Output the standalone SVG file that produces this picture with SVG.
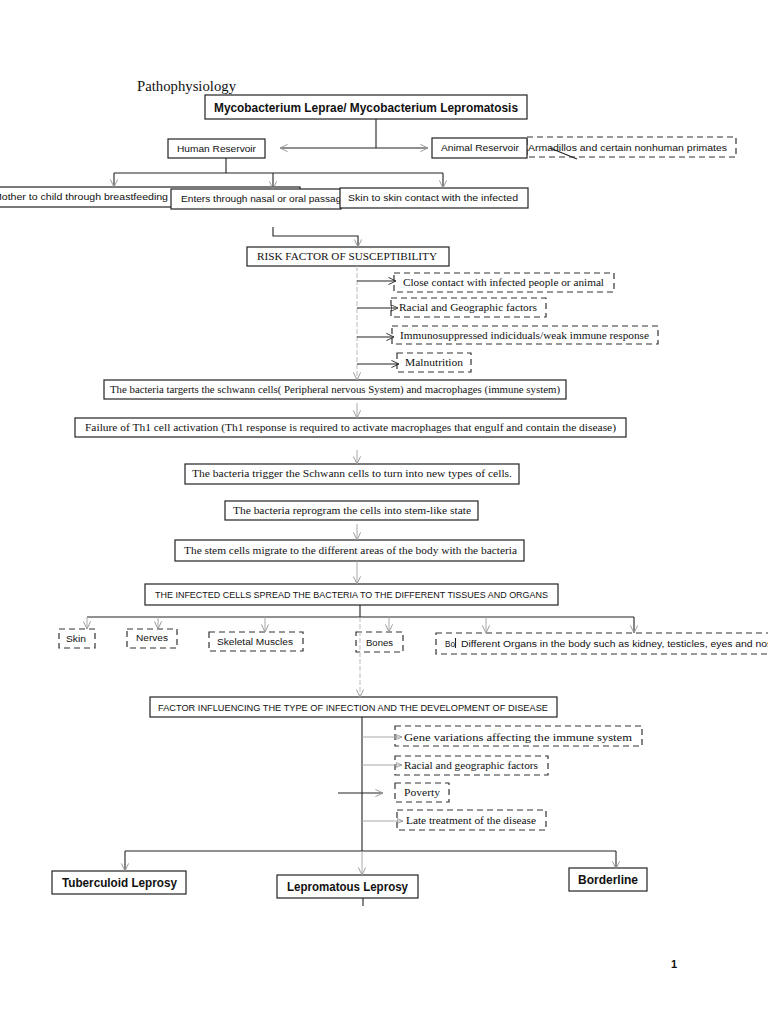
<svg xmlns="http://www.w3.org/2000/svg" width="768" height="1024" viewBox="0 0 768 1024">
<style>
.bx{fill:#fff;stroke:#222;stroke-width:1.2}
.dx{fill:#fff;stroke:#333;stroke-width:1.2;stroke-dasharray:6,4}
.sans{font-family:"Liberation Sans",Arial,sans-serif;fill:#111}
.serif{font-family:"Liberation Serif","Times New Roman",serif;fill:#111}
.k{fill:none;stroke:#222;stroke-width:1.1}
.g{fill:none;stroke:#aaa;stroke-width:1}
.gd{fill:none;stroke:#bbb;stroke-width:1;stroke-dasharray:5,2}
</style>
<defs>
<marker id="ag" viewBox="0 0 10 10" refX="9.5" refY="5" markerWidth="8" markerHeight="8" orient="auto" markerUnits="userSpaceOnUse"><path d="M0,0.5 L9.5,5 L0,9.5" fill="none" stroke="#999" stroke-width="1.2"/></marker>
<marker id="ak" viewBox="0 0 10 10" refX="9.5" refY="5" markerWidth="8" markerHeight="8" orient="auto" markerUnits="userSpaceOnUse"><path d="M0,0.5 L9.5,5 L0,9.5" fill="none" stroke="#333" stroke-width="1.2"/></marker>
<marker id="at" viewBox="0 0 10 10" refX="9.5" refY="5" markerWidth="7" markerHeight="7" orient="auto" markerUnits="userSpaceOnUse"><path d="M0,0.5 L9.5,5 L0,9.5 Z" fill="none" stroke="#333" stroke-width="1.2"/></marker>
<marker id="ats" viewBox="0 0 10 10" refX="9.5" refY="5" markerWidth="6" markerHeight="6" orient="auto" markerUnits="userSpaceOnUse"><path d="M0,1 L9.5,5 L0,9 Z" fill="none" stroke="#888" stroke-width="1.2"/></marker>
</defs>

<text class="serif" x="137" y="91" font-size="14" textLength="99" lengthAdjust="spacingAndGlyphs">Pathophysiology</text>

<g id="n-myco"><rect class="bx" x="205" y="95" width="322" height="24"/><text class="sans" x="214" y="112" font-size="12.5" font-weight="bold" textLength="304" lengthAdjust="spacingAndGlyphs">Mycobacterium Leprae/ Mycobacterium Lepromatosis</text></g>
<g id="n-human"><rect class="bx" x="168" y="139" width="97" height="19"/><text class="sans" x="177" y="152" font-size="9" textLength="79" lengthAdjust="spacingAndGlyphs">Human Reservoir</text></g>
<g id="n-armadillo"><rect class="dx" x="527" y="137" width="209" height="20"/><text class="sans" x="528" y="151" font-size="9" textLength="199" lengthAdjust="spacingAndGlyphs">Armadillos and certain nonhuman primates</text></g>
<g id="n-animal"><rect class="bx" x="432" y="138" width="95" height="20"/><text class="sans" x="441" y="151" font-size="9" textLength="78" lengthAdjust="spacingAndGlyphs">Animal Reservoir</text></g>
<g id="n-mother"><rect class="bx" x="-120" y="187" width="420" height="20"/><text class="sans" x="-7" y="200" font-size="9" textLength="175" lengthAdjust="spacingAndGlyphs">Mother to child through breastfeeding</text></g>
<g id="n-enters"><rect class="bx" x="171" y="189" width="170" height="20"/><text class="sans" x="181" y="202" font-size="9" textLength="166" lengthAdjust="spacingAndGlyphs">Enters through nasal or oral passage</text></g>
<g id="n-skin"><rect class="bx" x="340" y="188" width="188" height="20"/><text class="sans" x="348" y="201" font-size="9" textLength="170" lengthAdjust="spacingAndGlyphs">Skin to skin contact with the infected</text></g>

<g id="n-risk"><rect class="bx" x="247" y="247" width="202" height="19"/><text class="serif" x="257" y="260" font-size="9.5" textLength="180" lengthAdjust="spacingAndGlyphs">RISK FACTOR OF SUSCEPTIBILITY</text></g>
<g id="n-close"><rect class="dx" x="394" y="273" width="220" height="19" style="fill:none"/><text class="serif" x="403" y="286" font-size="9.5" textLength="201" lengthAdjust="spacingAndGlyphs">Close contact with infected people or animal</text></g>
<g id="n-racial1"><rect class="dx" x="391" y="298" width="155" height="19" style="fill:none"/><text class="serif" x="399" y="311" font-size="9.5" textLength="138" lengthAdjust="spacingAndGlyphs">Racial and Geographic factors</text></g>
<g id="n-immuno"><rect class="dx" x="392" y="326" width="266" height="18" style="fill:none"/><text class="serif" x="400" y="339" font-size="9.5" textLength="249" lengthAdjust="spacingAndGlyphs">Immunosuppressed indiciduals/weak immune response</text></g>
<g id="n-malnut"><rect class="dx" x="397" y="353" width="74" height="19" style="fill:none"/><text class="serif" x="405" y="366" font-size="9.5" textLength="58" lengthAdjust="spacingAndGlyphs">Malnutrition</text></g>

<g id="n-targets"><rect class="bx" x="104" y="380" width="462" height="19"/><text class="serif" x="110" y="393" font-size="9.5" textLength="450" lengthAdjust="spacingAndGlyphs">The bacteria targerts the schwann cells( Peripheral nervous System) and macrophages (immune system)</text></g>
<g id="n-failure"><rect class="bx" x="75" y="418" width="551" height="19"/><text class="serif" x="85" y="431" font-size="9.5" textLength="531" lengthAdjust="spacingAndGlyphs">Failure of Th1 cell activation (Th1 response is required to activate macrophages that engulf and contain the disease)</text></g>
<g id="n-trigger"><rect class="bx" x="185" y="464" width="334" height="20"/><text class="serif" x="192" y="477" font-size="9.5" textLength="320" lengthAdjust="spacingAndGlyphs">The bacteria trigger the Schwann cells to turn into new types of cells.</text></g>
<g id="n-reprogram"><rect class="bx" x="225" y="501" width="253" height="19"/><text class="serif" x="233" y="514" font-size="9.5" textLength="238" lengthAdjust="spacingAndGlyphs">The bacteria reprogram the cells into stem-like state</text></g>
<g id="n-stem"><rect class="bx" x="175" y="540" width="349" height="21"/><text class="serif" x="184" y="554" font-size="9.5" textLength="333" lengthAdjust="spacingAndGlyphs">The stem cells migrate to the different areas of the body with the bacteria</text></g>
<g id="n-infected"><rect class="bx" x="145" y="584" width="413" height="21"/><text class="sans" x="155" y="598" font-size="8.5" textLength="393" lengthAdjust="spacingAndGlyphs">THE INFECTED CELLS SPREAD THE BACTERIA TO THE DIFFERENT TISSUES AND ORGANS</text></g>

<g id="n-t-skin"><rect class="dx" x="59" y="629" width="36" height="19" style="fill:none"/><text class="sans" x="66" y="642" font-size="8.5" textLength="20" lengthAdjust="spacingAndGlyphs">Skin</text></g>
<g id="n-t-nerves"><rect class="dx" x="127" y="629" width="50" height="19" style="fill:none"/><text class="sans" x="136" y="641" font-size="8.5" textLength="32" lengthAdjust="spacingAndGlyphs">Nerves</text></g>
<g id="n-t-skeletal"><rect class="dx" x="209" y="632" width="94" height="19" style="fill:none"/><text class="sans" x="217" y="645" font-size="8.5" textLength="76" lengthAdjust="spacingAndGlyphs">Skeletal Muscles</text></g>
<g id="n-t-bones"><rect class="dx" x="356" y="632" width="47" height="20" style="fill:none"/><text class="sans" x="366" y="646" font-size="8.5" textLength="27" lengthAdjust="spacingAndGlyphs">Bones</text></g>
<g id="n-t-organs"><rect class="dx" x="436" y="633" width="360" height="21" style="fill:none"/><text class="sans" x="445" y="647" font-size="8.5" textLength="10" lengthAdjust="spacingAndGlyphs">Bo</text><path class="k" d="M455.5,638 V648"/><text class="sans" x="461" y="647" font-size="8.5" textLength="317" lengthAdjust="spacingAndGlyphs">Different Organs in the body such as kidney, testicles, eyes and nose</text></g>

<g id="n-factor"><rect class="bx" x="150" y="697" width="407" height="20"/><text class="sans" x="158" y="711" font-size="8.5" textLength="390" lengthAdjust="spacingAndGlyphs">FACTOR INFLUENCING THE TYPE OF INFECTION AND THE DEVELOPMENT OF DISEASE</text></g>
<g id="n-gene"><rect class="dx" x="395" y="726" width="247" height="20" style="fill:none"/><text class="serif" x="404" y="741" font-size="10" textLength="228" lengthAdjust="spacingAndGlyphs">Gene variations affecting the immune system</text></g>
<g id="n-racial2"><rect class="dx" x="395" y="756" width="153" height="19" style="fill:none"/><text class="serif" x="404" y="769" font-size="10" textLength="134" lengthAdjust="spacingAndGlyphs">Racial and geographic factors</text></g>
<g id="n-poverty"><rect class="dx" x="395" y="783" width="54" height="19" style="fill:none"/><text class="serif" x="404" y="796" font-size="10" textLength="36" lengthAdjust="spacingAndGlyphs">Poverty</text></g>
<g id="n-late"><rect class="dx" x="397" y="810" width="149" height="20" style="fill:none"/><text class="serif" x="406" y="824" font-size="10" textLength="130" lengthAdjust="spacingAndGlyphs">Late treatment of the disease</text></g>

<g id="n-tuberculoid"><rect class="bx" x="52" y="871" width="134" height="23"/><text class="sans" x="62" y="887" font-size="12" font-weight="bold" textLength="115" lengthAdjust="spacingAndGlyphs">Tuberculoid Leprosy</text></g>
<g id="n-lepromatous"><rect class="bx" x="277" y="875" width="141" height="23"/><text class="sans" x="287" y="891" font-size="12" font-weight="bold" textLength="121" lengthAdjust="spacingAndGlyphs">Lepromatous Leprosy</text></g>
<g id="n-borderline"><rect class="bx" x="569" y="868" width="78" height="23"/><text class="sans" x="578" y="884" font-size="12" font-weight="bold" textLength="60" lengthAdjust="spacingAndGlyphs">Borderline</text></g>

<g id="connectors">
<path class="k" d="M376,119 V148"/>
<path class="k" d="M376,148 H280" marker-end="url(#ag)"/>
<path class="k" d="M376,148 H428" marker-end="url(#ag)"/>
<path class="k" d="M550,148 L577,159"/>
<path class="k" d="M226,158 V173 M114,173 H443"/>
<path class="k" d="M114,173 V187" marker-end="url(#ag)"/>
<path class="k" d="M273,173 V189" marker-end="url(#ag)"/>
<path class="k" d="M443,173 V188" marker-end="url(#ag)"/>
<path class="k" d="M273,227 V236 H358 V247" marker-end="url(#ag)"/>
<path class="gd" d="M357,266 V380" marker-end="url(#ag)"/>
<path class="k" d="M357,281 H396" marker-end="url(#ak)"/>
<path class="k" d="M357,308 H398" marker-end="url(#at)"/>
<path class="k" d="M357,337 H394" marker-end="url(#ak)"/>
<path class="k" d="M357,364 H399" marker-end="url(#ak)"/>
<path class="g" d="M357,403 V418" marker-end="url(#ag)"/>
<path class="g" d="M357,450 V464" marker-end="url(#ag)"/>
<path class="g" d="M357,524 V540" marker-end="url(#ag)"/>
<path class="g" d="M357,561 V584" marker-end="url(#ag)"/>
<path class="k" d="M360,605 V617 M87,617 H634"/>
<path class="g" d="M87,617 V629" marker-end="url(#ag)"/>
<path class="g" d="M158,617 V629" marker-end="url(#ag)"/>
<path class="g" d="M265,617 V632" marker-end="url(#ag)"/>
<path class="g" d="M389,617 V632" marker-end="url(#ag)"/>
<path class="g" d="M486,617 V633" marker-end="url(#ag)"/>
<path class="k" d="M634,617 V633" marker-end="url(#ag)"/>
<path class="gd" d="M360,617 V697" marker-end="url(#ag)"/>
<path class="k" d="M362,717 V851" stroke-width="1.4"/>
<path class="g" d="M362,737 H402" marker-end="url(#ats)"/>
<path class="g" d="M362,765 H402" marker-end="url(#ats)"/>
<path class="k" d="M338,793 H383" marker-end="url(#ag)"/>
<path class="g" d="M362,821 H403" marker-end="url(#ats)"/>
<path class="k" d="M125,851 H616" stroke-width="1.4"/>
<path class="k" d="M125,851 V871" marker-end="url(#ag)"/>
<path class="g" d="M362,851 V875" marker-end="url(#ag)"/>
<path class="k" d="M616,851 V869" marker-end="url(#ag)"/>
<path class="k" d="M363,898 V906"/>
</g>

<text class="sans" x="671" y="968" font-size="11" font-weight="bold">1</text>
</svg>
